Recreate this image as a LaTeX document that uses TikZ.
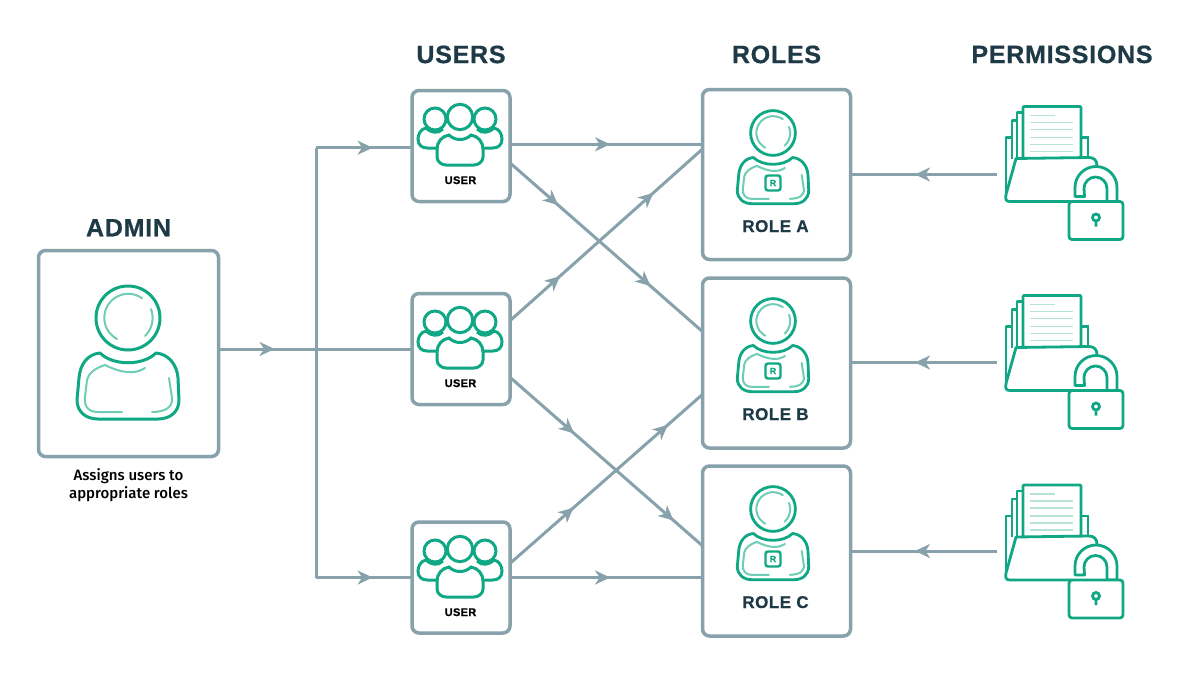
\documentclass[tikz,border=0pt]{standalone}
\usepackage{fontspec}
\setmainfont{Fira Sans Medium}
\newfontfamily\headfont[LetterSpace=3,BoldFeatures={FakeBold=0.7}]{Liberation Sans}
\usetikzlibrary{positioning,arrows.meta,decorations.markings}
\definecolor{linegray}{HTML}{87A2AB}
\definecolor{icongreen}{HTML}{10A884}
\definecolor{softgreen}{HTML}{6FCDB6}
\definecolor{paperline}{HTML}{B5E3D7}
\definecolor{titledark}{HTML}{1E3A46}
\tikzset{
  midtip/.tip={Stealth[length=15pt,width=14pt,inset=4.5pt]},
  box/.style={draw=linegray,line width=3.5pt,rounded corners=7pt,fill=white,outer sep=0pt,inner sep=0pt},
  flow/.style={draw=linegray,line width=3pt},
  markat/.style={postaction={decorate,decoration={markings,mark=at position #1 with {\arrow{midtip}}}}},
  titlelabel/.style={inner sep=0pt,text=titledark,font=\headfont\bfseries\fontsize{25}{28}\selectfont},
  rolelabel/.style={inner sep=0pt,text=titledark,font=\headfont\bfseries\fontsize{17}{20}\selectfont},
  userlabel/.style={inner sep=0pt,text=black,font=\headfont\bfseries\fontsize{11}{12}\selectfont},
  soft/.style={draw=softgreen,line width=2pt,line cap=round},
  person/.pic={
    \draw[icongreen] (0,0) circle (32);
    \draw[icongreen,line join=round] (-28,-35) .. controls (-15,-48) and (15,-48) .. (28,-35)
      .. controls (40,-36) and (49,-46) .. (50,-60) -- (51,-82)
      .. controls (51,-94) and (42,-101) .. (30,-101) -- (-30,-101)
      .. controls (-42,-101) and (-51,-94) .. (-51,-82) -- (-49,-60)
      .. controls (-48,-46) and (-40,-36) .. (-28,-35) -- cycle;
    \draw[soft] (-11,-21) arc[start angle=242,end angle=55,radius=24];
    \draw[soft] (17,-18) arc[start angle=-46,end angle=21,radius=25];
    \draw[soft] (17,-50) .. controls (8,-56) and (-5,-56) .. (-23,-47)
      .. controls (-33,-50) and (-40,-56) .. (-41,-62) -- (-43,-79)
      .. controls (-44,-88) and (-40,-94) .. (-30,-94) -- (-6,-94);
    \draw[soft] (24,-94) .. controls (36,-94) and (45,-90) .. (44,-80) -- (41,-60);
  },
  roleicon/.pic={
    \pic[scale=.7,line width=2.8pt] {person};
    \node[draw=icongreen,line width=2.4pt,rounded corners=2.5pt,minimum size=15pt,inner sep=0pt,
      text=icongreen,font=\headfont\bfseries\fontsize{9}{9}\selectfont] (badge) at (0,-50) {R};
  },
  groupicon/.pic={
    \foreach \side in {-1,1} {
      \begin{scope}[xscale=\side]
        \draw[icongreen] (-25,-2) circle (11);
        \draw[icongreen] (-17,-12) .. controls (-22,-17) and (-29,-16) .. (-34,-11)
          .. controls (-39,-12) and (-42,-17) .. (-42,-22)
          .. controls (-42,-28) and (-38,-31) .. (-33,-31) -- (-20,-31);
      \end{scope}
    }
    \draw[icongreen,fill=white] (0,0) circle (12.7);
    \draw[icongreen,fill=white] (-11,-18) .. controls (-5,-24) and (5,-24) .. (11,-18)
      .. controls (18,-19) and (23,-25) .. (23,-32) -- (23,-40)
      .. controls (23,-45) and (18,-48) .. (14,-48) -- (-14,-48)
      .. controls (-18,-48) and (-23,-45) .. (-23,-40) -- (-23,-32)
      .. controls (-23,-25) and (-18,-19) .. (-11,-18) -- cycle;
  },
  lockedfolder/.pic={
    \draw[icongreen,line join=round] (9,-23) -- (9,37) -- (15,37) -- (15,54) -- (20,54) -- (20,62) -- (26,62);
    \draw[icongreen] (15,37) -- (15,16) (20,54) -- (20,16) (84,37) -- (91,37) -- (91,16);
    \draw[icongreen,fill=white,rounded corners=1pt] (26,16) -- (26,68) -- (84,68) -- (84,16);
    \foreach \ypos in {59,52,45,37,30,23} {
      \draw[paperline,line width=1.8pt] (33,\ypos) -- (\ifnum\ypos=59 58\else 76\fi,\ypos);
    }
    \draw[icongreen,fill=white,line join=round] (100,9) .. controls (100,14) and (97,17) .. (92,17)
      -- (19,16) -- (9,-20) .. controls (8,-25) and (9,-27) .. (13,-27) -- (74,-27);
    \draw[icongreen,fill=white,line join=round] (78,-22) -- (78,-13) arc[start angle=180,end angle=0,radius=21]
      -- (120,-27) -- (110,-27) -- (110,-14) arc[start angle=0,end angle=180,radius=11.5] -- (87.5,-22) -- cycle;
    \draw[icongreen,fill=white,rounded corners=3pt] (72,-27) rectangle (126,-65);
    \draw[icongreen] (99,-43) circle (3.5) (99,-47) -- (99,-52);
  }
}
\begin{document}
\begin{tikzpicture}[x=1pt,y=1pt]
\useasboundingbox (0,0) rectangle (1200,-675);
% boxes
\node[box,minimum width=180pt,minimum height=206pt] (admin) at (128.5,-353.5) {};
\foreach \n/\y in {u1/146,u2/349,u3/577.5}
  \node[box,minimum width=98pt,minimum height=111pt] (\n) at (461,-\y) {};
\foreach \n/\y in {r1/174.5,r2/363,r3/551}
  \node[box,minimum width=148pt,minimum height=170pt] (\n) at (776.5,-\y) {};
\coordinate (trunk) at (316,-350);
\foreach \n/\y in {p1/174.5,p2/362.5,p3/551}
  \coordinate (\n) at (997,-\y);
% admin to users
\draw[flow,markat=.29] (admin.east |- u2.west) -- (u2.west);
\draw[flow] (trunk |- u1.182) -- (trunk |- u3.west);
\draw[flow,markat=.59] (trunk |- u1.182) -- (u1.182);
\draw[flow,markat=.59] (trunk |- u3.west) -- (u3.west);
% users to roles
\draw[flow,markat=.52] (u1.2) -- (r1.west |- u1.2);
\draw[flow,markat=.52] (u3.east) -- (r3.west |- u3.east);
\draw[flow,markat=.25,markat=.73] (u1.-19) -- (r2.157.9);
\draw[flow,markat=.26,markat=.745] (u2.30.6) -- (r1.161.7);
\draw[flow,markat=.333,markat=.85] (u2.-30.6) -- (r3.176.9);
\draw[flow,markat=.33,markat=.82] (u3.16.5) -- (r2.203.4);
% permissions to roles
\foreach \p/\r in {p1/r1,p2/r2,p3/r3}
  \draw[flow,markat=.56] (\p) -- (\p -| \r.east);
% labels
\node[titlelabel,above=14pt of admin] (admintitle) {ADMIN};
\node[titlelabel,above=27pt of u1] (userstitle) {USERS};
\node[titlelabel,above=26pt of r1] (rolestitle) {ROLES};
\node[titlelabel,anchor=base] (permtitle) at (1062,-63) {PERMISSIONS};
\node[below=12pt of admin,align=center,inner sep=0pt,font=\fontsize{15}{18}\selectfont] (admintext) {Assigns users to\\appropriate roles};
% icons
\pic[line width=3pt] at (128,-318) {person};
\foreach \x/\y in {1/133,2/321,3/509}
  \pic[line width=2.8pt] (role\x) at (773,-\y) {roleicon};
\foreach \y/\t in {117/u1,320/u2,549/u3} {
  \pic[line width=3pt] at (460,-\y) {groupicon};
  \node[userlabel,anchor=base] (\t text) at (460.5,-\y-67) {USER};
}
\foreach \l/\y in {A/232,B/420,C/608}
  \node[rolelabel,anchor=base] (role\l text) at (775.5,-\y) {ROLE \l};
\foreach \p/\s in {p1/0,p2/1,p3/2}
  \pic[line width=2.8pt] at ([yshift=-\s pt]\p) {lockedfolder};
\end{tikzpicture}
\end{document}
